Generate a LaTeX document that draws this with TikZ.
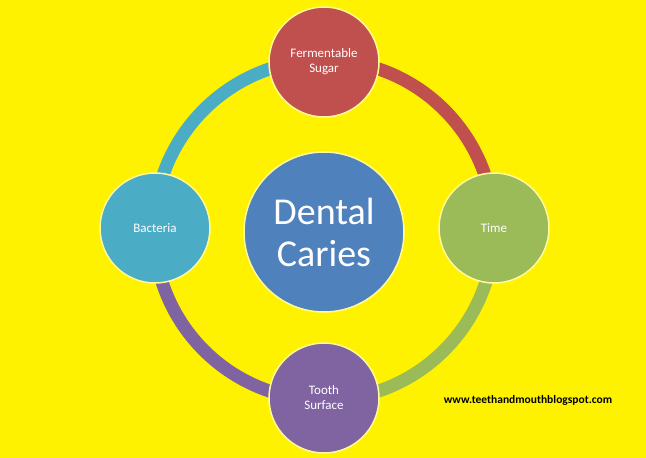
\documentclass[tikz,border=0pt]{standalone}
\usepackage{fontspec}
\setmainfont{Carlito}
\definecolor{bg}{HTML}{FFF200}
\definecolor{cred}{HTML}{C0504D}
\definecolor{cgreen}{HTML}{9BBB59}
\definecolor{cpurple}{HTML}{8064A2}
\definecolor{cteal}{HTML}{4BACC6}
\definecolor{cblue}{HTML}{4F81BD}
\begin{document}
\begin{tikzpicture}[x=1pt,y=-1pt,
  sat/.style={circle,minimum size=110pt,inner sep=0pt,draw=yellow!40!white,line width=1.5pt,text=white,font=\fontsize{13}{15}\selectfont,align=center},
  arcline/.style={line width=13pt}]
\fill[bg] (0,0) rectangle (646,458);
\coordinate (c) at (324,230);
\draw[arcline,cteal] (c) ++(180:170) arc[start angle=180,end angle=270,radius=170];
\draw[arcline,cred] (c) ++(270:170) arc[start angle=270,end angle=360,radius=170];
\draw[arcline,cgreen] (c) ++(0:170) arc[start angle=0,end angle=90,radius=170];
\draw[arcline,cpurple] (c) ++(90:170) arc[start angle=90,end angle=180,radius=170];
\node[sat,fill=cblue,minimum size=160pt,font=\fontsize{38}{42}\selectfont] (dc) at (324,232) {Dental\\Caries};
\node[sat,fill=cred] (sugar) at (324,62) {Fermentable\\Sugar};
\node[sat,fill=cteal] (bact) at (155,228) {Bacteria};
\node[sat,fill=cgreen] (time) at (494,228) {Time};
\node[sat,fill=cpurple] (tooth) at (324,398) {Tooth\\Surface};
\node[font=\bfseries\fontsize{11.5}{12}\selectfont] (url) at (528,400) {www.teethandmouthblogspot.com};
\end{tikzpicture}
\end{document}
